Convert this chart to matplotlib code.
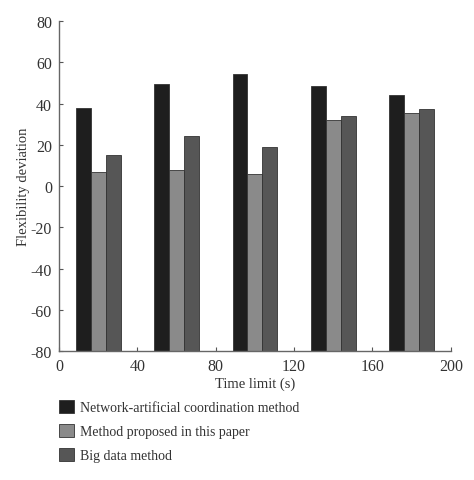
import matplotlib
matplotlib.use("Agg")
import matplotlib.pyplot as plt
from matplotlib.patches import Patch

time_limits = [20, 60, 100, 140, 180]
series_names = ["Network-artificial coordination method",
                "Method proposed in this paper",
                "Big data method"]
network_vals = [38.0, 49.7, 54.4, 48.4, 44.4]
proposed_vals = [7.0, 7.9, 6.1, 32.0, 35.4]
bigdata_vals = [14.9, 24.1, 19.2, 33.9, 37.5]
series_vals = [network_vals, proposed_vals, bigdata_vals]
colors = ["#1e1e1e", "#8a8a8a", "#565656"]
xticks = [0, 40, 80, 120, 160, 200]
yticks = [-80, -60, -40, -20, 0, 20, 40, 60, 80]

plt.rcParams['font.family'] = ['Liberation Serif', 'DejaVu Serif']
plt.rcParams['axes.unicode_minus'] = False

fig = plt.figure(figsize=(4.74, 4.81), dpi=100)
ax = fig.add_axes([0.1245, 0.268, 0.8265, 0.686])

baseline = -80
width = 7.6
offsets = [-width, 0, width]
for vals, col, off, name in zip(series_vals, colors, offsets, series_names):
    ax.bar([t + off for t in time_limits], [v - baseline for v in vals],
           bottom=baseline, width=width, color=col, edgecolor="#333333",
           linewidth=0.6, label=name)

ax.set_xlim(0, 200)
ax.set_ylim(-80, 80)
ax.set_xticks(xticks)
ax.set_yticks(yticks)
ax.tick_params(direction="in", length=3, width=0.8, color="#555555",
               labelsize=11.5, labelcolor="#333333")
ax.tick_params(axis="x", pad=5)
ax.tick_params(axis="y", pad=5)
for s in ["top", "right"]:
    ax.spines[s].set_visible(False)
for s in ["left", "bottom"]:
    ax.spines[s].set_color("#666666")
    ax.spines[s].set_linewidth(1.0)

ax.set_xlabel("Time limit (s)", fontsize=10.5, color="#333333", labelpad=2)
ax.set_ylabel("Flexibility deviation", fontsize=10.5, color="#333333")
ax.yaxis.set_label_coords(-0.074, 0.5)

handles = [Patch(facecolor=c, edgecolor="#333333", linewidth=0.6) for c in colors]
fig.legend(handles, series_names, loc="upper left",
           bbox_to_anchor=(0.098, 0.193), frameon=False, fontsize=10,
           handlelength=1.1, handleheight=1.1, handletextpad=0.45,
           labelspacing=0.7, labelcolor="#333333")

fig.savefig("out.png", dpi=100)
